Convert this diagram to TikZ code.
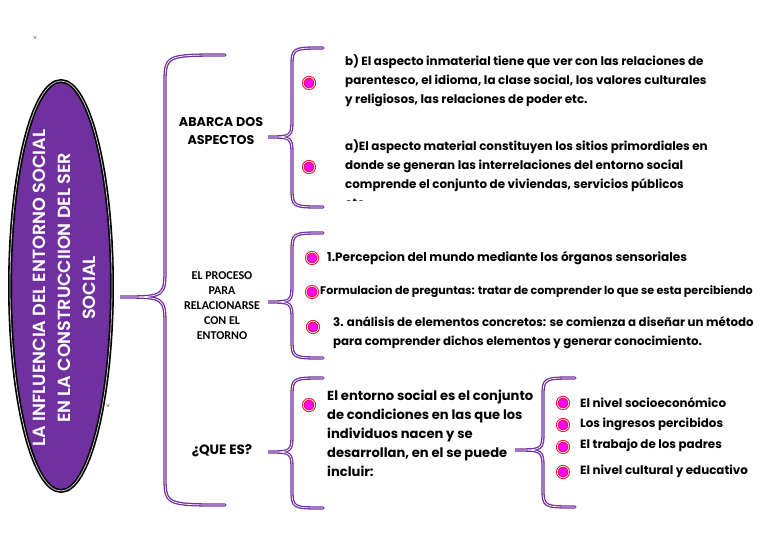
\documentclass[tikz,border=0pt]{standalone}
\usepackage{fontspec}
\setmainfont{Poppins}[BoldFont = Poppins Bold]
\newfontfamily\labelfont{Carlito}[BoldFont = Carlito Bold]
\newfontfamily\headfont{Poppins SemiBold}
\usetikzlibrary{positioning, shapes.geometric}
\definecolor{SchemePurple}{RGB}{112,48,160}
\definecolor{BulletPink}{RGB}{255,0,255}
\definecolor{BulletRed}{RGB}{235,25,60}

\begin{document}
\begin{tikzpicture}[x = 1pt, y = -1pt]%
    %
    \tikzstyle{brace} = [draw = SchemePurple, double = white, line width = 1.3pt, double distance = .7pt, line cap = round]%
    \tikzstyle{bullet} = [circle, fill = BulletPink, draw = BulletRed, double = white, double distance = .6pt, line width = 1pt, minimum size = 11.5pt, inner sep = 0pt]%
    \tikzstyle{bodytext} = [anchor = west, align = left, inner sep = 0pt, font = \bfseries\fontsize{11.9}{19}\selectfont]%
    \tikzstyle{midlabel} = [align = center, inner sep = 0pt]%
    \tikzstyle{stray} = [inner sep = 0pt, text = black!70, font = \fontsize{6}{6}\selectfont]%
    %
    % end x, spine x, tip x, top y, tip y, bottom y, curl
    \def\curlybrace#1#2#3#4#5#6#7{%
        \draw [brace] (#1, #4) .. controls (#2, #4) .. (#2, #4 + #7) -- (#2, #5 - #7)
            .. controls (#2, #5) .. (#3, #5) .. controls (#2, #5) .. (#2, #5 + #7)
            -- (#2, #6 - #7) .. controls (#2, #6) .. (#1, #6);}%
    %
    \useasboundingbox (0, 0) rectangle (768, 543);%
    %
    % Title
    \node (title) [ellipse, fill = SchemePurple, draw = black, double = gray!45, double distance = .8pt, line width = 1.6pt, minimum width = 102pt, minimum height = 410pt] at (61, 286) {};%
    \node (titletext) [rotate = 90, align = center, text = white, font = \headfont\fontsize{17.6}{25}\selectfont] at (64, 288) {LA INFLUENCIA DEL ENTORNO SOCIAL\\EN LA CONSTRUCCIION DEL SER\\SOCIAL};%
    %
    % Braces
    \curlybrace{225}{165}{120}{55}{297}{505}{30}%
    \curlybrace{323}{292}{268}{48}{137}{207}{20}%
    \curlybrace{323}{292}{268}{233}{302}{358}{20}%
    \curlybrace{323}{292}{268}{378}{452}{508}{20}%
    \curlybrace{575}{543}{515}{378}{450}{507}{20}%
    %
    % Middle labels
    \node (abarca) [midlabel, font = \bfseries\fontsize{12.7}{18}\selectfont] at (221, 131) {ABARCA DOS\\ASPECTOS};%
    \node (proceso) [midlabel, font = \labelfont\bfseries\fontsize{12}{15}\selectfont] at (222, 306) {EL PROCESO\\PARA\\RELACIONARSE\\CON EL\\ENTORNO};%
    \node (quees) [midlabel, font = \bfseries\fontsize{13.5}{15}\selectfont] at (222, 451) {¿QUE ES?};%
    %
    % Aspects
    \node (inmaterialdot) [bullet] at (309, 83) {};%
    \node (inmaterial) [bodytext] at (345, 81) {b) El aspecto inmaterial tiene que ver con las relaciones de\\parentesco, el idioma, la clase social, los valores culturales\\y religiosos, las relaciones de poder etc.};%
    \node (materialdot) [bullet] at (309, 167) {};%
    \begin{scope}
        \clip (330, 130) rectangle (768, 200);%
        \node (material) [bodytext] at (345, 174) {a)El aspecto material constituyen los sitios primordiales en\\donde se generan las interrelaciones del entorno social\\comprende el conjunto de viviendas, servicios públicos\\etc.};%
    \end{scope}
    %
    % Process
    \node (percepciondot) [bullet] at (312, 258) {};%
    \node (percepcion) [bodytext, font = \bfseries\fontsize{12.1}{19}\selectfont] at (327, 258) {1.Percepcion del mundo mediante los órganos sensoriales};%
    \node (preguntasdot) [bullet] at (312, 292) {};%
    \node (preguntas) [bodytext, font = \bfseries\fontsize{11.1}{19}\selectfont] at (320, 292) {Formulacion de preguntas: tratar de comprender lo que se esta percibiendo};%
    \node (analisisdot) [bullet] at (313, 327) {};%
    \node (analisis) [bodytext, font = \bfseries\fontsize{11.8}{19}\selectfont] at (333, 333) {3. análisis de elementos concretos: se comienza a diseñar un método\\para comprender dichos elementos y generar conocimiento.};%
    %
    % Definition
    \node (entornodot) [bullet] at (309, 405) {};%
    \node (entorno) [bodytext, font = \bfseries\fontsize{13.1}{19}\selectfont] at (327, 433) {El entorno social es el conjunto\\de condiciones en las que los\\individuos nacen y se\\desarrollan, en el se puede\\incluir:};%
    %
    % Includes
    \node (nivel1dot) [bullet] at (563, 403) {};%
    \node (nivel1) [bodytext] at (580, 403) {El nivel socioeconómico};%
    \node (ingresosdot) [bullet] at (563, 425) {};%
    \node (ingresos) [bodytext] at (580, 424) {Los ingresos percibidos};%
    \node (trabajodot) [bullet] at (563, 447) {};%
    \node (trabajo) [bodytext] at (580, 445) {El trabajo de los padres};%
    \node (nivel2dot) [bullet] at (563, 472) {};%
    \node (nivel2) [bodytext] at (580, 471) {El nivel cultural y educativo};%
    %
    % Stray marks
    \node (markA) [stray] at (35, 38) {v};%
    \node (markB) [stray] at (108, 406) {v};%
    %
\end{tikzpicture}
\end{document}
